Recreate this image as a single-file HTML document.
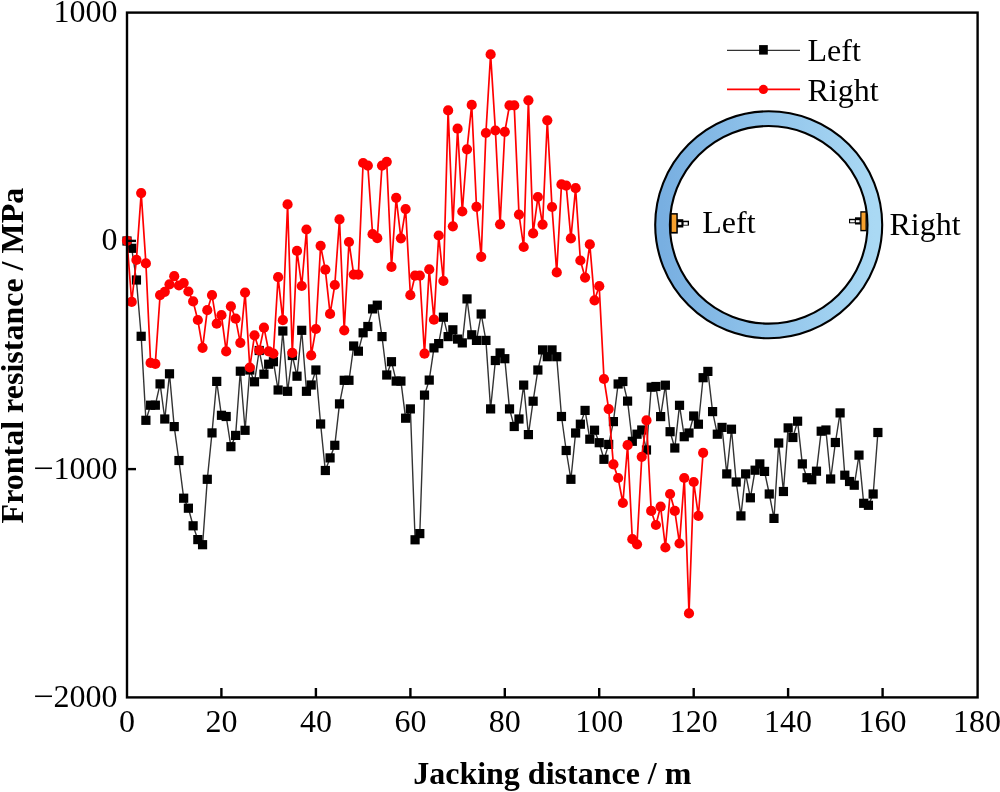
<!DOCTYPE html>
<html><head><meta charset="utf-8"><style>
html,body{margin:0;padding:0;background:#fff;}
svg{display:block;}
text{font-family:"Liberation Serif","Times New Roman",serif;font-size:32px;fill:#000;}
.b{font-weight:bold;}
</style></head><body>
<svg width="1000" height="792" viewBox="0 0 1000 792">
<rect width="1000" height="792" fill="#fff"/>
<g fill="#000"><polyline points="127.0,241.0 131.7,248.3 136.4,280.0 141.2,336.3 145.9,420.3 150.6,405.2 155.3,405.2 160.1,383.9 164.8,419.0 169.5,373.8 174.2,426.6 178.9,460.5 183.7,498.2 188.4,508.2 193.1,525.8 197.8,539.6 202.6,544.7 207.3,479.3 212.0,432.9 216.7,381.4 221.4,415.3 226.2,416.5 230.9,446.7 235.6,435.4 240.3,371.2 245.1,430.3 249.8,370.0 254.5,381.8 259.2,350.5 264.0,374.2 268.7,364.2 273.4,361.7 278.1,390.0 282.8,331.0 287.6,391.3 292.3,355.5 297.0,376.2 301.7,330.3 306.5,391.3 311.2,385.0 315.9,370.0 320.6,424.0 325.3,470.5 330.1,457.9 334.8,445.3 339.5,403.9 344.2,380.3 349.0,380.3 353.7,346.0 358.4,351.2 363.1,332.8 367.8,326.5 372.6,308.9 377.3,305.2 382.0,336.6 386.7,375.0 391.5,361.7 396.2,381.1 400.9,381.1 405.6,418.2 410.4,408.9 415.1,539.8 419.8,533.6 424.5,395.1 429.2,380.1 434.0,347.9 438.7,343.6 443.4,317.2 448.1,336.6 452.9,329.8 457.6,339.1 462.3,342.9 467.0,298.9 471.7,334.8 476.5,340.4 481.2,314.0 485.9,340.4 490.6,408.9 495.4,360.5 500.1,352.9 504.8,358.7 509.5,408.9 514.2,426.5 519.0,419.0 523.7,385.1 528.4,434.6 533.1,401.2 537.9,370.0 542.6,349.9 547.3,356.7 552.0,349.9 556.7,356.7 561.5,416.5 566.2,450.5 570.9,479.3 575.6,433.0 580.4,424.2 585.1,410.4 589.8,439.2 594.5,430.2 599.2,442.7 604.0,459.3 608.7,444.4 613.4,421.6 618.1,384.0 622.9,381.5 627.6,401.1 632.3,441.3 637.0,434.2 641.8,430.0 646.5,450.0 651.2,387.2 655.9,386.5 660.6,416.6 665.4,385.2 670.1,431.7 674.8,448.0 679.5,405.3 684.3,436.7 689.0,433.0 693.7,416.0 698.4,424.2 703.1,377.7 707.9,371.4 712.6,411.6 717.3,434.2 722.0,427.4 726.8,473.9 731.5,429.2 736.2,482.0 740.9,515.9 745.6,473.9 750.4,497.8 755.1,470.2 759.8,463.9 764.5,471.4 769.3,494.0 774.0,518.4 778.7,443.0 783.4,491.5 788.1,427.9 792.9,437.5 797.6,421.2 802.3,463.9 807.0,477.7 811.8,479.7 816.5,471.2 821.2,431.2 825.9,430.0 830.7,479.0 835.4,442.5 840.1,412.9 844.8,475.2 849.5,481.5 854.3,485.2 859.0,455.1 863.7,503.3 868.4,505.3 873.2,494.0 877.9,432.5" fill="none" stroke="#333" stroke-width="1.4" stroke-linejoin="round"/><rect x="122.40" y="236.40" width="9.2" height="9.2"/><rect x="127.12" y="243.70" width="9.2" height="9.2"/><rect x="131.84" y="275.40" width="9.2" height="9.2"/><rect x="136.57" y="331.70" width="9.2" height="9.2"/><rect x="141.29" y="415.70" width="9.2" height="9.2"/><rect x="146.01" y="400.60" width="9.2" height="9.2"/><rect x="150.74" y="400.60" width="9.2" height="9.2"/><rect x="155.46" y="379.30" width="9.2" height="9.2"/><rect x="160.18" y="414.40" width="9.2" height="9.2"/><rect x="164.90" y="369.20" width="9.2" height="9.2"/><rect x="169.62" y="422.00" width="9.2" height="9.2"/><rect x="174.35" y="455.90" width="9.2" height="9.2"/><rect x="179.07" y="493.60" width="9.2" height="9.2"/><rect x="183.79" y="503.60" width="9.2" height="9.2"/><rect x="188.52" y="521.20" width="9.2" height="9.2"/><rect x="193.24" y="535.00" width="9.2" height="9.2"/><rect x="197.96" y="540.10" width="9.2" height="9.2"/><rect x="202.68" y="474.70" width="9.2" height="9.2"/><rect x="207.41" y="428.30" width="9.2" height="9.2"/><rect x="212.13" y="376.80" width="9.2" height="9.2"/><rect x="216.85" y="410.70" width="9.2" height="9.2"/><rect x="221.57" y="411.90" width="9.2" height="9.2"/><rect x="226.30" y="442.10" width="9.2" height="9.2"/><rect x="231.02" y="430.80" width="9.2" height="9.2"/><rect x="235.74" y="366.60" width="9.2" height="9.2"/><rect x="240.46" y="425.70" width="9.2" height="9.2"/><rect x="245.19" y="365.40" width="9.2" height="9.2"/><rect x="249.91" y="377.20" width="9.2" height="9.2"/><rect x="254.63" y="345.90" width="9.2" height="9.2"/><rect x="259.35" y="369.60" width="9.2" height="9.2"/><rect x="264.07" y="359.60" width="9.2" height="9.2"/><rect x="268.80" y="357.10" width="9.2" height="9.2"/><rect x="273.52" y="385.40" width="9.2" height="9.2"/><rect x="278.24" y="326.40" width="9.2" height="9.2"/><rect x="282.96" y="386.70" width="9.2" height="9.2"/><rect x="287.69" y="350.90" width="9.2" height="9.2"/><rect x="292.41" y="371.60" width="9.2" height="9.2"/><rect x="297.13" y="325.70" width="9.2" height="9.2"/><rect x="301.86" y="386.70" width="9.2" height="9.2"/><rect x="306.58" y="380.40" width="9.2" height="9.2"/><rect x="311.30" y="365.40" width="9.2" height="9.2"/><rect x="316.02" y="419.40" width="9.2" height="9.2"/><rect x="320.75" y="465.90" width="9.2" height="9.2"/><rect x="325.47" y="453.30" width="9.2" height="9.2"/><rect x="330.19" y="440.70" width="9.2" height="9.2"/><rect x="334.91" y="399.30" width="9.2" height="9.2"/><rect x="339.63" y="375.70" width="9.2" height="9.2"/><rect x="344.36" y="375.70" width="9.2" height="9.2"/><rect x="349.08" y="341.40" width="9.2" height="9.2"/><rect x="353.80" y="346.60" width="9.2" height="9.2"/><rect x="358.52" y="328.20" width="9.2" height="9.2"/><rect x="363.25" y="321.90" width="9.2" height="9.2"/><rect x="367.97" y="304.30" width="9.2" height="9.2"/><rect x="372.69" y="300.60" width="9.2" height="9.2"/><rect x="377.41" y="332.00" width="9.2" height="9.2"/><rect x="382.14" y="370.40" width="9.2" height="9.2"/><rect x="386.86" y="357.10" width="9.2" height="9.2"/><rect x="391.58" y="376.50" width="9.2" height="9.2"/><rect x="396.31" y="376.50" width="9.2" height="9.2"/><rect x="401.03" y="413.60" width="9.2" height="9.2"/><rect x="405.75" y="404.30" width="9.2" height="9.2"/><rect x="410.47" y="535.20" width="9.2" height="9.2"/><rect x="415.19" y="529.00" width="9.2" height="9.2"/><rect x="419.92" y="390.50" width="9.2" height="9.2"/><rect x="424.64" y="375.50" width="9.2" height="9.2"/><rect x="429.36" y="343.30" width="9.2" height="9.2"/><rect x="434.08" y="339.00" width="9.2" height="9.2"/><rect x="438.81" y="312.60" width="9.2" height="9.2"/><rect x="443.53" y="332.00" width="9.2" height="9.2"/><rect x="448.25" y="325.20" width="9.2" height="9.2"/><rect x="452.97" y="334.50" width="9.2" height="9.2"/><rect x="457.70" y="338.30" width="9.2" height="9.2"/><rect x="462.42" y="294.30" width="9.2" height="9.2"/><rect x="467.14" y="330.20" width="9.2" height="9.2"/><rect x="471.87" y="335.80" width="9.2" height="9.2"/><rect x="476.59" y="309.40" width="9.2" height="9.2"/><rect x="481.31" y="335.80" width="9.2" height="9.2"/><rect x="486.03" y="404.30" width="9.2" height="9.2"/><rect x="490.75" y="355.90" width="9.2" height="9.2"/><rect x="495.48" y="348.30" width="9.2" height="9.2"/><rect x="500.20" y="354.10" width="9.2" height="9.2"/><rect x="504.92" y="404.30" width="9.2" height="9.2"/><rect x="509.64" y="421.90" width="9.2" height="9.2"/><rect x="514.37" y="414.40" width="9.2" height="9.2"/><rect x="519.09" y="380.50" width="9.2" height="9.2"/><rect x="523.81" y="430.00" width="9.2" height="9.2"/><rect x="528.53" y="396.60" width="9.2" height="9.2"/><rect x="533.26" y="365.40" width="9.2" height="9.2"/><rect x="537.98" y="345.30" width="9.2" height="9.2"/><rect x="542.70" y="352.10" width="9.2" height="9.2"/><rect x="547.43" y="345.30" width="9.2" height="9.2"/><rect x="552.15" y="352.10" width="9.2" height="9.2"/><rect x="556.87" y="411.90" width="9.2" height="9.2"/><rect x="561.59" y="445.90" width="9.2" height="9.2"/><rect x="566.31" y="474.70" width="9.2" height="9.2"/><rect x="571.04" y="428.40" width="9.2" height="9.2"/><rect x="575.76" y="419.60" width="9.2" height="9.2"/><rect x="580.48" y="405.80" width="9.2" height="9.2"/><rect x="585.21" y="434.60" width="9.2" height="9.2"/><rect x="589.93" y="425.60" width="9.2" height="9.2"/><rect x="594.65" y="438.10" width="9.2" height="9.2"/><rect x="599.37" y="454.70" width="9.2" height="9.2"/><rect x="604.09" y="439.80" width="9.2" height="9.2"/><rect x="608.82" y="417.00" width="9.2" height="9.2"/><rect x="613.54" y="379.40" width="9.2" height="9.2"/><rect x="618.26" y="376.90" width="9.2" height="9.2"/><rect x="622.99" y="396.50" width="9.2" height="9.2"/><rect x="627.71" y="436.70" width="9.2" height="9.2"/><rect x="632.43" y="429.60" width="9.2" height="9.2"/><rect x="637.15" y="425.40" width="9.2" height="9.2"/><rect x="641.88" y="445.40" width="9.2" height="9.2"/><rect x="646.60" y="382.60" width="9.2" height="9.2"/><rect x="651.32" y="381.90" width="9.2" height="9.2"/><rect x="656.04" y="412.00" width="9.2" height="9.2"/><rect x="660.76" y="380.60" width="9.2" height="9.2"/><rect x="665.49" y="427.10" width="9.2" height="9.2"/><rect x="670.21" y="443.40" width="9.2" height="9.2"/><rect x="674.93" y="400.70" width="9.2" height="9.2"/><rect x="679.65" y="432.10" width="9.2" height="9.2"/><rect x="684.38" y="428.40" width="9.2" height="9.2"/><rect x="689.10" y="411.40" width="9.2" height="9.2"/><rect x="693.82" y="419.60" width="9.2" height="9.2"/><rect x="698.54" y="373.10" width="9.2" height="9.2"/><rect x="703.27" y="366.80" width="9.2" height="9.2"/><rect x="707.99" y="407.00" width="9.2" height="9.2"/><rect x="712.71" y="429.60" width="9.2" height="9.2"/><rect x="717.43" y="422.80" width="9.2" height="9.2"/><rect x="722.16" y="469.30" width="9.2" height="9.2"/><rect x="726.88" y="424.60" width="9.2" height="9.2"/><rect x="731.60" y="477.40" width="9.2" height="9.2"/><rect x="736.33" y="511.30" width="9.2" height="9.2"/><rect x="741.05" y="469.30" width="9.2" height="9.2"/><rect x="745.77" y="493.20" width="9.2" height="9.2"/><rect x="750.49" y="465.60" width="9.2" height="9.2"/><rect x="755.22" y="459.30" width="9.2" height="9.2"/><rect x="759.94" y="466.80" width="9.2" height="9.2"/><rect x="764.66" y="489.40" width="9.2" height="9.2"/><rect x="769.38" y="513.80" width="9.2" height="9.2"/><rect x="774.11" y="438.40" width="9.2" height="9.2"/><rect x="778.83" y="486.90" width="9.2" height="9.2"/><rect x="783.55" y="423.30" width="9.2" height="9.2"/><rect x="788.27" y="432.90" width="9.2" height="9.2"/><rect x="793.00" y="416.60" width="9.2" height="9.2"/><rect x="797.72" y="459.30" width="9.2" height="9.2"/><rect x="802.44" y="473.10" width="9.2" height="9.2"/><rect x="807.16" y="475.10" width="9.2" height="9.2"/><rect x="811.88" y="466.60" width="9.2" height="9.2"/><rect x="816.61" y="426.60" width="9.2" height="9.2"/><rect x="821.33" y="425.40" width="9.2" height="9.2"/><rect x="826.05" y="474.40" width="9.2" height="9.2"/><rect x="830.77" y="437.90" width="9.2" height="9.2"/><rect x="835.50" y="408.30" width="9.2" height="9.2"/><rect x="840.22" y="470.60" width="9.2" height="9.2"/><rect x="844.94" y="476.90" width="9.2" height="9.2"/><rect x="849.66" y="480.60" width="9.2" height="9.2"/><rect x="854.39" y="450.50" width="9.2" height="9.2"/><rect x="859.11" y="498.70" width="9.2" height="9.2"/><rect x="863.83" y="500.70" width="9.2" height="9.2"/><rect x="868.55" y="489.40" width="9.2" height="9.2"/><rect x="873.28" y="427.90" width="9.2" height="9.2"/></g>
<g fill="#f00"><polyline points="127.0,240.8 131.7,301.9 136.4,259.9 141.2,193.1 145.9,263.4 150.6,362.9 155.3,363.9 160.1,295.1 164.8,291.8 169.5,284.3 174.2,276.2 178.9,285.5 183.7,283.0 188.4,291.5 193.1,301.4 197.8,320.0 202.6,347.8 207.3,310.2 212.0,295.1 216.7,323.7 221.4,315.2 226.2,351.4 230.9,306.4 235.6,318.7 240.3,342.8 245.1,292.6 249.8,367.5 254.5,335.3 259.2,350.4 264.0,327.7 268.7,351.4 273.4,353.6 278.1,277.2 282.8,320.2 287.6,204.4 292.3,352.9 297.0,250.9 301.7,286.0 306.5,229.5 311.2,355.4 315.9,329.0 320.6,245.8 325.3,269.7 330.1,313.9 334.8,285.0 339.5,219.4 344.2,330.3 349.0,242.0 353.7,274.6 358.4,274.6 363.1,163.0 367.8,165.6 372.6,234.2 377.3,238.2 382.0,165.6 386.7,161.8 391.5,266.9 396.2,197.8 400.9,238.3 405.6,209.1 410.4,295.2 415.1,275.7 419.8,275.7 424.5,353.7 429.2,269.4 434.0,319.7 438.7,235.5 443.4,281.0 448.1,110.4 452.9,226.3 457.6,128.7 462.3,211.5 467.0,149.3 471.7,104.9 476.5,206.8 481.2,256.8 485.9,133.0 490.6,54.4 495.4,130.5 500.1,224.3 504.8,131.8 509.5,105.4 514.2,105.4 519.0,214.6 523.7,247.0 528.4,100.3 533.1,233.4 537.9,197.0 542.6,224.6 547.3,120.3 552.0,207.0 556.7,272.4 561.5,184.4 566.2,185.6 570.9,238.4 575.6,188.2 580.4,260.5 585.1,277.6 589.8,244.4 594.5,300.3 599.2,286.2 604.0,379.0 608.7,409.1 613.4,464.4 618.1,478.0 622.9,503.0 627.6,445.2 632.3,539.2 637.0,544.3 641.8,456.8 646.5,420.4 651.2,510.9 655.9,525.0 660.6,506.6 665.4,547.5 670.1,494.0 674.8,510.9 679.5,543.5 684.3,478.0 689.0,613.4 693.7,482.0 698.4,515.9 703.1,452.8" fill="none" stroke="#f00" stroke-width="1.7" stroke-linejoin="round"/><circle cx="127.00" cy="240.80" r="5.1"/><circle cx="131.72" cy="301.90" r="5.1"/><circle cx="136.44" cy="259.90" r="5.1"/><circle cx="141.17" cy="193.10" r="5.1"/><circle cx="145.89" cy="263.40" r="5.1"/><circle cx="150.61" cy="362.90" r="5.1"/><circle cx="155.34" cy="363.90" r="5.1"/><circle cx="160.06" cy="295.10" r="5.1"/><circle cx="164.78" cy="291.80" r="5.1"/><circle cx="169.50" cy="284.30" r="5.1"/><circle cx="174.22" cy="276.20" r="5.1"/><circle cx="178.95" cy="285.50" r="5.1"/><circle cx="183.67" cy="283.00" r="5.1"/><circle cx="188.39" cy="291.50" r="5.1"/><circle cx="193.12" cy="301.40" r="5.1"/><circle cx="197.84" cy="320.00" r="5.1"/><circle cx="202.56" cy="347.80" r="5.1"/><circle cx="207.28" cy="310.20" r="5.1"/><circle cx="212.00" cy="295.10" r="5.1"/><circle cx="216.73" cy="323.70" r="5.1"/><circle cx="221.45" cy="315.20" r="5.1"/><circle cx="226.17" cy="351.40" r="5.1"/><circle cx="230.90" cy="306.40" r="5.1"/><circle cx="235.62" cy="318.70" r="5.1"/><circle cx="240.34" cy="342.80" r="5.1"/><circle cx="245.06" cy="292.60" r="5.1"/><circle cx="249.78" cy="367.50" r="5.1"/><circle cx="254.51" cy="335.30" r="5.1"/><circle cx="259.23" cy="350.40" r="5.1"/><circle cx="263.95" cy="327.70" r="5.1"/><circle cx="268.68" cy="351.40" r="5.1"/><circle cx="273.40" cy="353.60" r="5.1"/><circle cx="278.12" cy="277.20" r="5.1"/><circle cx="282.84" cy="320.20" r="5.1"/><circle cx="287.56" cy="204.40" r="5.1"/><circle cx="292.29" cy="352.90" r="5.1"/><circle cx="297.01" cy="250.90" r="5.1"/><circle cx="301.73" cy="286.00" r="5.1"/><circle cx="306.46" cy="229.50" r="5.1"/><circle cx="311.18" cy="355.40" r="5.1"/><circle cx="315.90" cy="329.00" r="5.1"/><circle cx="320.62" cy="245.80" r="5.1"/><circle cx="325.35" cy="269.70" r="5.1"/><circle cx="330.07" cy="313.90" r="5.1"/><circle cx="334.79" cy="285.00" r="5.1"/><circle cx="339.51" cy="219.40" r="5.1"/><circle cx="344.24" cy="330.30" r="5.1"/><circle cx="348.96" cy="242.00" r="5.1"/><circle cx="353.68" cy="274.60" r="5.1"/><circle cx="358.40" cy="274.60" r="5.1"/><circle cx="363.12" cy="163.00" r="5.1"/><circle cx="367.85" cy="165.60" r="5.1"/><circle cx="372.57" cy="234.20" r="5.1"/><circle cx="377.29" cy="238.20" r="5.1"/><circle cx="382.01" cy="165.60" r="5.1"/><circle cx="386.74" cy="161.80" r="5.1"/><circle cx="391.46" cy="266.90" r="5.1"/><circle cx="396.18" cy="197.80" r="5.1"/><circle cx="400.91" cy="238.30" r="5.1"/><circle cx="405.63" cy="209.10" r="5.1"/><circle cx="410.35" cy="295.20" r="5.1"/><circle cx="415.07" cy="275.70" r="5.1"/><circle cx="419.80" cy="275.70" r="5.1"/><circle cx="424.52" cy="353.70" r="5.1"/><circle cx="429.24" cy="269.40" r="5.1"/><circle cx="433.96" cy="319.70" r="5.1"/><circle cx="438.69" cy="235.50" r="5.1"/><circle cx="443.41" cy="281.00" r="5.1"/><circle cx="448.13" cy="110.40" r="5.1"/><circle cx="452.85" cy="226.30" r="5.1"/><circle cx="457.57" cy="128.70" r="5.1"/><circle cx="462.30" cy="211.50" r="5.1"/><circle cx="467.02" cy="149.30" r="5.1"/><circle cx="471.74" cy="104.90" r="5.1"/><circle cx="476.47" cy="206.80" r="5.1"/><circle cx="481.19" cy="256.80" r="5.1"/><circle cx="485.91" cy="133.00" r="5.1"/><circle cx="490.63" cy="54.40" r="5.1"/><circle cx="495.36" cy="130.50" r="5.1"/><circle cx="500.08" cy="224.30" r="5.1"/><circle cx="504.80" cy="131.80" r="5.1"/><circle cx="509.52" cy="105.40" r="5.1"/><circle cx="514.25" cy="105.40" r="5.1"/><circle cx="518.97" cy="214.60" r="5.1"/><circle cx="523.69" cy="247.00" r="5.1"/><circle cx="528.41" cy="100.30" r="5.1"/><circle cx="533.13" cy="233.40" r="5.1"/><circle cx="537.86" cy="197.00" r="5.1"/><circle cx="542.58" cy="224.60" r="5.1"/><circle cx="547.30" cy="120.30" r="5.1"/><circle cx="552.03" cy="207.00" r="5.1"/><circle cx="556.75" cy="272.40" r="5.1"/><circle cx="561.47" cy="184.40" r="5.1"/><circle cx="566.19" cy="185.60" r="5.1"/><circle cx="570.91" cy="238.40" r="5.1"/><circle cx="575.64" cy="188.20" r="5.1"/><circle cx="580.36" cy="260.50" r="5.1"/><circle cx="585.08" cy="277.60" r="5.1"/><circle cx="589.81" cy="244.40" r="5.1"/><circle cx="594.53" cy="300.30" r="5.1"/><circle cx="599.25" cy="286.20" r="5.1"/><circle cx="603.97" cy="379.00" r="5.1"/><circle cx="608.69" cy="409.10" r="5.1"/><circle cx="613.42" cy="464.40" r="5.1"/><circle cx="618.14" cy="478.00" r="5.1"/><circle cx="622.86" cy="503.00" r="5.1"/><circle cx="627.59" cy="445.20" r="5.1"/><circle cx="632.31" cy="539.20" r="5.1"/><circle cx="637.03" cy="544.30" r="5.1"/><circle cx="641.75" cy="456.80" r="5.1"/><circle cx="646.48" cy="420.40" r="5.1"/><circle cx="651.20" cy="510.90" r="5.1"/><circle cx="655.92" cy="525.00" r="5.1"/><circle cx="660.64" cy="506.60" r="5.1"/><circle cx="665.37" cy="547.50" r="5.1"/><circle cx="670.09" cy="494.00" r="5.1"/><circle cx="674.81" cy="510.90" r="5.1"/><circle cx="679.53" cy="543.50" r="5.1"/><circle cx="684.25" cy="478.00" r="5.1"/><circle cx="688.98" cy="613.40" r="5.1"/><circle cx="693.70" cy="482.00" r="5.1"/><circle cx="698.42" cy="515.90" r="5.1"/><circle cx="703.14" cy="452.80" r="5.1"/></g>
<rect x="127" y="12.6" width="850.6" height="684.8" fill="none" stroke="#000" stroke-width="2.4"/><line x1="221.4" y1="697" x2="221.4" y2="688" stroke="#000" stroke-width="2.4"/><line x1="315.9" y1="697" x2="315.9" y2="688" stroke="#000" stroke-width="2.4"/><line x1="410.4" y1="697" x2="410.4" y2="688" stroke="#000" stroke-width="2.4"/><line x1="504.8" y1="697" x2="504.8" y2="688" stroke="#000" stroke-width="2.4"/><line x1="599.2" y1="697" x2="599.2" y2="688" stroke="#000" stroke-width="2.4"/><line x1="693.7" y1="697" x2="693.7" y2="688" stroke="#000" stroke-width="2.4"/><line x1="788.1" y1="697" x2="788.1" y2="688" stroke="#000" stroke-width="2.4"/><line x1="882.6" y1="697" x2="882.6" y2="688" stroke="#000" stroke-width="2.4"/><line x1="127" y1="240.9" x2="136" y2="240.9" stroke="#000" stroke-width="2.4"/><line x1="127" y1="469.1" x2="136" y2="469.1" stroke="#000" stroke-width="2.4"/>
<text x="117.5" y="22.1" text-anchor="end">1000</text><text x="117.5" y="250.4" text-anchor="end">0</text><text x="117.5" y="478.6" text-anchor="end">1000</text><text transform="scale(1.14,1)" x="38.07" y="478.6" text-anchor="middle">−</text><text x="117.5" y="706.9" text-anchor="end">2000</text><text transform="scale(1.14,1)" x="38.07" y="706.9" text-anchor="middle">−</text><text x="127.0" y="732.2" text-anchor="middle">0</text><text x="221.4" y="732.2" text-anchor="middle">20</text><text x="315.9" y="732.2" text-anchor="middle">40</text><text x="410.4" y="732.2" text-anchor="middle">60</text><text x="504.8" y="732.2" text-anchor="middle">80</text><text x="599.2" y="732.2" text-anchor="middle">100</text><text x="693.7" y="732.2" text-anchor="middle">120</text><text x="788.1" y="732.2" text-anchor="middle">140</text><text x="882.6" y="732.2" text-anchor="middle">160</text><text x="977.1" y="732.2" text-anchor="middle">180</text>
<text class="b" x="552.3" y="784.4" text-anchor="middle">Jacking distance / m</text>
<text class="b" transform="translate(22.7,355.6) rotate(-90)" text-anchor="middle">Frontal resistance / MPa</text>

<line x1="727" y1="50.3" x2="800" y2="50.3" stroke="#333" stroke-width="1.3"/>
<rect x="759.1" y="45.1" width="8.7" height="9.5"/>
<line x1="727" y1="89.4" x2="800" y2="89.4" stroke="#f00" stroke-width="1.7"/>
<circle cx="763.4" cy="89.4" r="4.6" fill="#f00"/>
<text x="807.5" y="61">Left</text>
<text x="807.5" y="100.6">Right</text>


<defs><linearGradient id="rg" x1="0" y1="0" x2="1" y2="0">
<stop offset="0" stop-color="#78afe1"/><stop offset="1" stop-color="#aad9f4"/></linearGradient></defs>
<circle cx="768.7" cy="224.8" r="106.15" fill="none" stroke="url(#rg)" stroke-width="14.5"/>
<circle cx="768.7" cy="224.8" r="113.5" fill="none" stroke="#000" stroke-width="2.1"/>
<circle cx="768.7" cy="224.8" r="98.8" fill="none" stroke="#000" stroke-width="2.1"/>
<g fill="#000">
<rect x="670.5" y="213.1" width="7.3" height="20.5"/>
<rect x="677" y="219.2" width="6.3" height="8.3"/>
<rect x="683" y="220.7" width="6" height="4.9"/>
<rect x="860.3" y="211.2" width="6.4" height="20.1"/>
<rect x="855" y="217.3" width="5.8" height="7.2"/>
<rect x="849" y="218.8" width="6.3" height="4.5"/>
</g>
<rect x="671.7" y="214.6" width="4.6" height="17.3" fill="#f7a12e"/>
<rect x="861.5" y="212.6" width="4" height="17.3" fill="#f7a12e"/>
<g fill="#fff">
<rect x="678.2" y="222.2" width="3.2" height="2.6"/>
<rect x="683.6" y="222.2" width="4.1" height="2.6"/>
<rect x="850.1" y="220.2" width="4.6" height="2.1"/>
<rect x="855.9" y="220.2" width="3.6" height="2.1"/>
</g>
<text x="702.3" y="232.6">Left</text>
<text x="889.5" y="235.3">Right</text>

</svg>
</body></html>
